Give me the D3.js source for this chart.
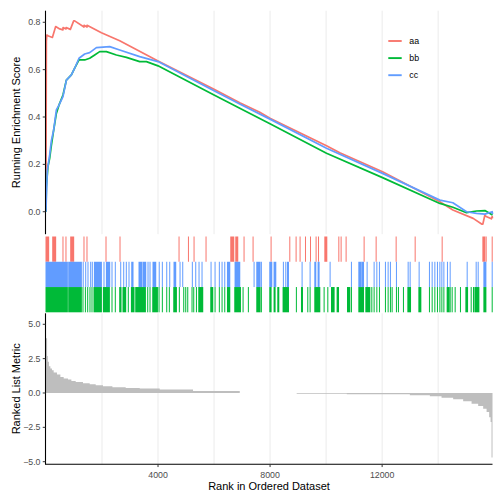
<!DOCTYPE html>
<html>
<head>
<meta charset="utf-8">
<script src="https://cdn.jsdelivr.net/npm/d3@7"></script>
<style>
  body { margin: 0; background: #fff; }
  svg { display: block; font-family: "Liberation Sans", Arial, sans-serif; }
</style>
</head>
<body>
<svg id="chart" width="504" height="504"></svg>
<script>
'use strict';

// -----------------------------------------------------
// Data

const geneSets = ['aa', 'bb', 'cc'];
const setColors = ['#F8766D', '#00BA38', '#619CFF'];
const rugOrder = ['aa', 'cc', 'bb'];
const totalGenes = 15940;

// Running enrichment score, [rank, score]
const esAa = [[1, 0.12], [10, 0.56], [14, 0.72], [30, 0.746], [90, 0.742], [229, 0.736], [346, 0.782],
  [489, 0.772], [607, 0.768], [610, 0.778], [714, 0.772], [718, 0.778], [871, 0.77], [989, 0.806],
  [1025, 0.806], [1357, 0.78], [1360, 0.787], [1464, 0.78], [1467, 0.787], [1979, 0.756], [2632, 0.722],
  [4000, 0.637], [6000, 0.517], [6918, 0.46], [7632, 0.42], [8014, 0.394], [10014, 0.279], [10489, 0.249],
  [12014, 0.169], [14061, 0.042], [14525, 0.007], [15250, -0.028], [15550, -0.052], [15596, -0.052],
  [15668, -0.014], [15714, -0.02], [15900, -0.03], [15929, -0.02], [15940, -0.028]];
const esBb = [[1, 0], [14, 0.105], [71, 0.19], [132, 0.225], [193, 0.28], [275, 0.345], [371, 0.415],
  [464, 0.45], [607, 0.493], [729, 0.556], [907, 0.578], [1025, 0.606], [1179, 0.641], [1382, 0.641],
  [1561, 0.648], [1739, 0.662], [1918, 0.676], [2157, 0.676], [2514, 0.662], [2871, 0.652], [3346, 0.634],
  [3586, 0.634], [4000, 0.616], [6000, 0.493], [6918, 0.437], [8014, 0.37], [10014, 0.247], [12014, 0.144],
  [14061, 0.035], [14525, 0.019], [15014, -0.004], [15371, 0.003], [15668, 0.005], [15940, -0.014]];
const esCc = [[1, 0], [14, 0.063], [50, 0.176], [132, 0.24], [193, 0.30], [275, 0.345], [371, 0.43],
  [464, 0.45], [607, 0.486], [729, 0.556], [907, 0.578], [1025, 0.606], [1179, 0.648], [1382, 0.666],
  [1561, 0.672], [1800, 0.693], [2275, 0.697], [2632, 0.683], [3346, 0.655], [4000, 0.634], [6000, 0.511],
  [6918, 0.455], [8014, 0.39], [10014, 0.268], [12014, 0.162], [14061, 0.049], [14525, 0.038],
  [15014, 0.0], [15371, -0.007], [15668, -0.01], [15929, 0.0], [15940, -0.01]];

// Gene set hits: a rank, or a [from, to] run of adjacent hits
const hitsAa = [[1, 96], [240, 346], 607, 714, [882, 989], 1357, 1464, 2143, 2643, 4750, 5086, 5286, 5714,
  [6596, 6704], [6775, 6846], 7071, 7393, 8036, 8704, 8929, 9071, 9264, 9443, 9643, 9729, [9954, 10025],
  10454, 10536, 10714, 11357, 11786, 12500, 13179, 14143, [15596, 15668], 15714, 15929];
const hitsBb = [[1, 764], [811, 1264], 1321, 1407, 1489, 1571, 1643, [1714, 1979], [2050, 2264], 2357, 2475,
  [2632, 2679], [2750, 2846], 2939, [3050, 3143], [3204, 3550], 3632, 3714, [3811, 3979], 4036, 4154, 4311,
  4404, [4561, 4657], 4761, 4918, 4989, 5061, 5214, 5275, 5371, [5454, 5596], [5882, 5954], 6036, 6189,
  6286, 6382, [6479, 6561], [6739, 6943], 7036, 7225, [7525, 7643], 7689, [7989, 8036], [8143, 8179],
  [8275, 8311], [8464, 8657], 8939, [9121, 9157], 9346, 9429, [9596, 9775], 9929, 10061, [10193, 10286],
  [10393, 10443], [10764, 10846], 10904, [11168, 11336], [11418, 11561], 11632, 11714, 11811, 11904, 12118,
  12214, 12296, 12357, 12511, 12582, 12761, [12918, 13014], [13311, 13382], 13689, 13786, 13882, 13975,
  14061, 14132, 14204, [14321, 14393], 14429, 14500, 14607, 14796, [14989, 15050], 15179, 15261,
  [15311, 15454], [15632, 15704], 15929];
const hitsCc = [[1, 764], [811, 1264], 1329, 1418, 1500, 1596, 1654, [1729, 1979], 2071, [2157, 2275], 2357,
  2475, 2668, 2775, 2868, 2964, [3061, 3107], [3321, 3418], [3464, 3561], 3643, 3714, [3821, 3918], 4043,
  4154, 4311, 4418, [4571, 4632], 4786, 4882, 5225, 5346, 5464, 5571, 5893, 6036, 6189, 6286, 6382,
  [6479, 6561], [6750, 6918], 7429, [7525, 7643], 7689, [7989, 8061], [8143, 8204], 8475, 8561, [8621, 8657],
  9143, 9429, [9596, 9632], [9714, 9750], 10143, 10904, [11168, 11239], [11275, 11336], 11464, 11714, 11811,
  11904, 12118, 12214, 12296, 12511, 12929, 13000, 13321, 13689, 13786, 13882, 13975, 14061, 14132, 14204,
  14332, 14429, 15036, 15357, 15429, [15632, 15704], 15929];

// Ranked list metric, [rank, value], each value holds until the next rank
const rankedMetric = [[1, 5.3], [2, 3.98], [40, 2.69], [65, 2.27], [107, 1.95], [157, 1.78], [214, 1.66],
  [275, 1.49], [393, 1.35], [514, 1.17], [632, 1.05], [786, 0.98], [907, 0.88], [1061, 0.80], [1321, 0.71],
  [1561, 0.64], [1775, 0.56], [2036, 0.49], [2371, 0.42], [2846, 0.37], [3346, 0.32], [4061, 0.26],
  [5250, 0.15], [6918, 0], [8950, -0.06], [10740, -0.10], [12989, -0.17], [13704, -0.24], [14121, -0.34],
  [14536, -0.46], [14893, -0.61], [15193, -0.78], [15429, -0.95], [15607, -1.14], [15729, -1.39],
  [15821, -1.76], [15871, -2.12], [15905, -4.69], [15940, -4.69]];

const xTicks = [4000, 8000, 12000];
const xGrid = [2000, 4000, 6000, 8000, 10000, 12000, 14000];
const esTicks = [0, 0.2, 0.4, 0.6, 0.8];
const metricTicks = [-5, -2.5, 0, 2.5, 5];

const esSeries = [esAa, esBb, esCc];
const hitSeries = [hitsAa, hitsBb, hitsCc];

// -----------------------------------------------------
// Layout

const plotLeft = 45.5;
const plotRight = 492.5;
const esTop = 10.7, esBottom = 234.2;
const rugTop = 236.5, rugBottom = 312.3;
const metricTop = 313.3, metricBottom = 464.3;

const svg = d3.select('#chart');

const xScale =
d3.scaleLinear()
  .domain([1, totalGenes])
  .range([plotLeft + 0.5, plotRight]);

// ggplot style 5% expansion of the data range
function expanded(values) {
    const [lo, hi] = d3.extent(values);
    const pad = (hi - lo) * 0.05;
    return [lo - pad, hi + pad];
}

const esScale =
d3.scaleLinear()
  .domain(expanded(esSeries.flat().map(d => d[1])))
  .range([esBottom, esTop]);

const metricScale =
d3.scaleLinear()
  .domain(expanded(rankedMetric.map(d => d[1])))
  .range([metricBottom, metricTop]);

const rugScale =
d3.scaleBand()
  .domain(rugOrder)
  .range([rugTop, rugBottom]);

const colorScale =
d3.scaleOrdinal()
  .domain(geneSets)
  .range(setColors);

// -----------------------------------------------------
// Grid lines in the score and metric panels

[[esTop, esBottom], [metricTop, metricBottom]].forEach(([top, bottom]) => {
    svg.append('g')
       .selectAll('line')
       .data(xGrid)
       .enter()
       .append('line')
         .attr('x1', d => xScale(d))
         .attr('x2', d => xScale(d))
         .attr('y1', top)
         .attr('y2', bottom)
         .attr('stroke', '#EBEBEB')
         .attr('stroke-width', 1);
});

// -----------------------------------------------------
// Running enrichment score lines

const esLine =
d3.line()
  .x(d => xScale(d[0]))
  .y(d => esScale(d[1]));

svg.append('g')
   .selectAll('path')
   .data(esSeries)
   .enter()
   .append('path')
     .attr('d', esLine)
     .attr('fill', 'none')
     .attr('stroke', (d, i) => colorScale(geneSets[i]))
     .attr('stroke-width', 1.7)
     .attr('stroke-linejoin', 'round');

// -----------------------------------------------------
// Rug of hits, one row per gene set

hitSeries.forEach((hits, i) => {
    const runs = hits.map(h => Array.isArray(h) ? h : [h, h]);
    svg.append('g')
       .selectAll('rect')
       .data(runs)
       .enter()
       .append('rect')
         .attr('x', d => xScale(d[0]) - 0.5)
         .attr('width', d => xScale(d[1]) - xScale(d[0]) + 1)
         .attr('y', rugScale(geneSets[i]))
         .attr('height', rugScale.bandwidth())
         .attr('fill', colorScale(geneSets[i]));
});

// -----------------------------------------------------
// Ranked list metric

const metricArea =
d3.area()
  .curve(d3.curveStepAfter)
  .x(d => xScale(d[0]))
  .y0(metricScale(0))
  .y1(d => metricScale(d[1]));

svg.append('path')
   .datum(rankedMetric)
   .attr('d', metricArea)
   .attr('fill', '#BEBEBE');

// -----------------------------------------------------
// Axes

const tickColor = '#333333';
const labelColor = '#4D4D4D';

function drawYAxis(scale, ticks, top, bottom, format) {
    const g = svg.append('g');
    g.append('line')
     .attr('x1', plotLeft).attr('x2', plotLeft)
     .attr('y1', top).attr('y2', bottom)
     .attr('stroke', '#000').attr('stroke-width', 1.1);
    g.selectAll('line.tick')
     .data(ticks)
     .enter()
     .append('line')
       .attr('class', 'tick')
       .attr('x1', plotLeft - 2.75).attr('x2', plotLeft)
       .attr('y1', d => scale(d)).attr('y2', d => scale(d))
       .attr('stroke', tickColor).attr('stroke-width', 1);
    g.selectAll('text')
     .data(ticks)
     .enter()
     .append('text')
       .attr('x', plotLeft - 5)
       .attr('y', d => scale(d) + 3.1)
       .attr('text-anchor', 'end')
       .attr('font-size', 8.8)
       .attr('fill', labelColor)
       .text(format);
}

drawYAxis(esScale, esTicks, esTop, esBottom, d3.format('.1f'));
drawYAxis(metricScale, metricTicks, metricTop, metricBottom, d3.format('.1f'));

// Bottom x axis
const xAxisGroup = svg.append('g');
xAxisGroup.append('line')
  .attr('x1', plotLeft - 0.5).attr('x2', plotRight)
  .attr('y1', metricBottom).attr('y2', metricBottom)
  .attr('stroke', '#000').attr('stroke-width', 1.1);
xAxisGroup.selectAll('line.tick')
  .data(xTicks)
  .enter()
  .append('line')
    .attr('class', 'tick')
    .attr('x1', d => xScale(d)).attr('x2', d => xScale(d))
    .attr('y1', metricBottom).attr('y2', metricBottom + 2.75)
    .attr('stroke', tickColor).attr('stroke-width', 1);
xAxisGroup.selectAll('text')
  .data(xTicks)
  .enter()
  .append('text')
    .attr('x', d => xScale(d))
    .attr('y', 477.5)
    .attr('text-anchor', 'middle')
    .attr('font-size', 8.8)
    .attr('fill', labelColor)
    .text(d => d);

// Axis titles
svg.append('text')
   .attr('transform', `translate(20, ${(esTop + esBottom) / 2}) rotate(-90)`)
   .attr('text-anchor', 'middle')
   .attr('font-size', 11)
   .text('Running Enrichment Score');

svg.append('text')
   .attr('transform', `translate(20, ${(metricTop + metricBottom) / 2}) rotate(-90)`)
   .attr('text-anchor', 'middle')
   .attr('font-size', 11)
   .text('Ranked List Metric');

svg.append('text')
   .attr('x', (plotLeft + plotRight) / 2)
   .attr('y', 490)
   .attr('text-anchor', 'middle')
   .attr('font-size', 11)
   .text('Rank in Ordered Dataset');

// -----------------------------------------------------
// Legend

const legend =
svg.append('g')
   .attr('transform', 'translate(388.3, 41)');

const legendItem =
legend.selectAll('g')
      .data(geneSets)
      .enter()
      .append('g')
        .attr('transform', (d, i) => `translate(0, ${i * 17.1})`);

legendItem.append('line')
          .attr('x1', 0).attr('x2', 13.4)
          .attr('y1', 0).attr('y2', 0)
          .attr('stroke', d => colorScale(d))
          .attr('stroke-width', 1.9);

legendItem.append('text')
          .attr('x', 21)
          .attr('y', 3.1)
          .attr('font-size', 8.8)
          .text(d => d);
</script>
</body>
</html>
